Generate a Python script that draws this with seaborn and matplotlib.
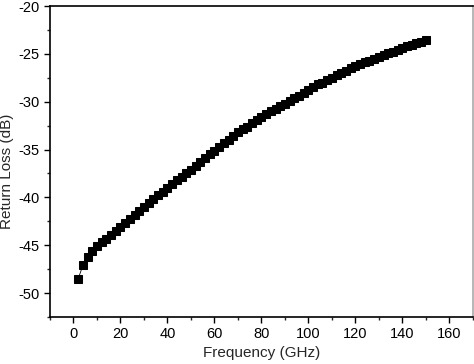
import matplotlib
matplotlib.use("Agg")
import matplotlib.pyplot as plt
from matplotlib.ticker import MultipleLocator
import pandas as pd
import seaborn as sns

freq_ghz = [2, 4, 6, 8, 10, 12, 14, 16, 18, 20, 22, 24, 26, 28, 30,
            32, 34, 36, 38, 40, 42, 44, 46, 48, 50, 52, 54, 56, 58, 60,
            62, 64, 66, 68, 70, 72, 74, 76, 78, 80, 82, 84, 86, 88, 90,
            92, 94, 96, 98, 100, 102, 104, 106, 108, 110, 112, 114, 116, 118, 120,
            122, 124, 126, 128, 130, 132, 134, 136, 138, 140, 142, 144, 146, 148, 150]
return_loss_db = [-48.5, -47.1, -46.2, -45.6, -45.1, -44.7, -44.3, -43.9, -43.5, -43.1,
                  -42.7, -42.3, -41.8, -41.4, -41.0, -40.6, -40.2, -39.8, -39.4, -39.0,
                  -38.6, -38.2, -37.9, -37.5, -37.1, -36.7, -36.3, -35.9, -35.5, -35.1,
                  -34.7, -34.3, -34.0, -33.6, -33.2, -32.9, -32.6, -32.2, -31.9, -31.6,
                  -31.3, -31.0, -30.8, -30.5, -30.2, -29.9, -29.6, -29.4, -29.1, -28.8,
                  -28.5, -28.2, -28.0, -27.7, -27.5, -27.2, -27.0, -26.8, -26.5, -26.3,
                  -26.1, -25.9, -25.7, -25.5, -25.3, -25.1, -24.9, -24.8, -24.6, -24.4,
                  -24.2, -24.1, -23.9, -23.8, -23.6]

df = pd.DataFrame({"freq": freq_ghz, "rl": return_loss_db})

sns.set_theme(style="ticks")
plt.rcParams['font.family'] = ['Liberation Sans', 'DejaVu Sans']
plt.rcParams['axes.unicode_minus'] = False

fig = plt.figure(figsize=(4.74, 3.64), dpi=100)
ax = fig.add_axes([0.1055, 0.129, 0.892, 0.8545])

sns.lineplot(data=df, x="freq", y="rl", ax=ax, color="black", linewidth=0.6,
             marker="s", markersize=5.5, markeredgecolor="black",
             markerfacecolor="black")

ax.set_xlim(-10, 170)
ax.set_ylim(-52.5, -20)
ax.xaxis.set_major_locator(MultipleLocator(20))
ax.xaxis.set_minor_locator(MultipleLocator(10))
ax.yaxis.set_major_locator(MultipleLocator(5))
ax.yaxis.set_minor_locator(MultipleLocator(2.5))

ax.tick_params(which="major", direction="out", length=4.5, width=1.0,
               labelsize=10.5, colors="black", pad=3)
ax.tick_params(which="minor", direction="out", length=2.5, width=1.0)
ax.tick_params(top=False, right=False)

for side in ["left", "bottom", "top"]:
    ax.spines[side].set_linewidth(1.2)
    ax.spines[side].set_color("black")
ax.spines["right"].set_color("#aaaaaa")
ax.spines["right"].set_linewidth(1.2)

ax.set_xlabel("Frequency (GHz)", fontsize=11, labelpad=3)
ax.set_ylabel("Return Loss (dB)", fontsize=11, labelpad=1)
ax.yaxis.set_label_coords(-0.085, 0.47)

fig.savefig("out.png", dpi=100)
